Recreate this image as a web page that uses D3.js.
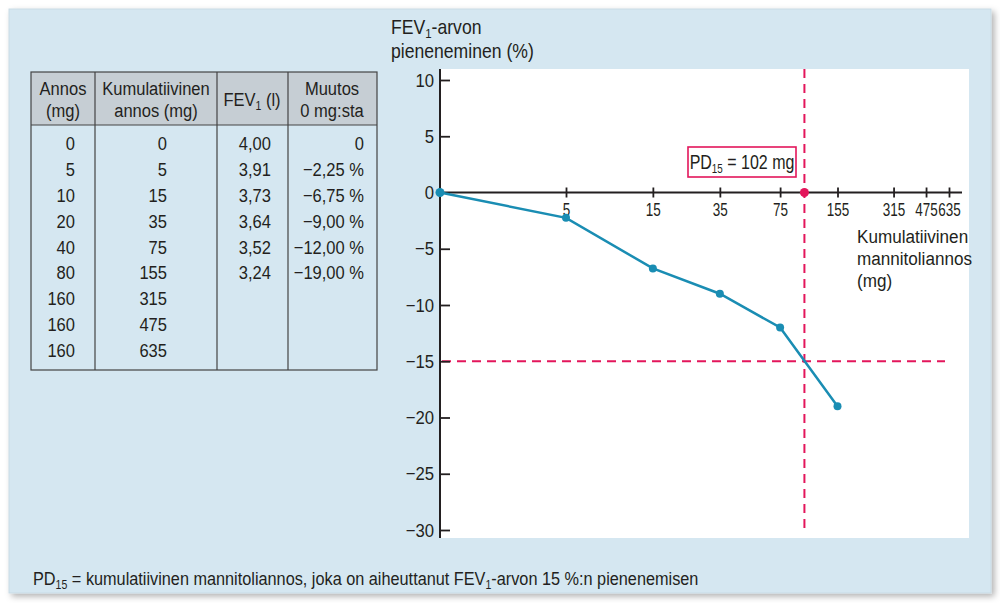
<!DOCTYPE html>
<html>
<head>
<meta charset="utf-8">
<script src="https://cdn.jsdelivr.net/npm/d3@7"></script>
<style>
  body { margin: 0; background: #fff; }
  svg text { font-family: "Liberation Sans", Arial, sans-serif; fill: #231f20; }
</style>
</head>
<body>
<div id="chart"></div>
<script>
// table data
var annos = [0, 5, 10, 20, 40, 80, 160, 160, 160];
var kumulatiivinen = [0, 5, 15, 35, 75, 155, 315, 475, 635];
var fev1 = [4.00, 3.91, 3.73, 3.64, 3.52, 3.24];
var muutos = [0, -2.25, -6.75, -9.00, -12.00, -19.00];

// chart ticks
var xTicks = [5, 15, 35, 75, 155, 315, 475, 635];
var yTicks = [10, 5, 0, -5, -10, -15, -20, -25, -30];
var pd15 = 102;
var threshold = -15;

var W = 1000, H = 603;
var blue = "#1a8db3", pink = "#e3165b", bg = "#d5e7f1";

// narrow the text horizontally (the original uses a condensed face)
function squeeze(sel, s) {
    sel.each(function() {
        var t = d3.select(this);
        var x = +t.attr("x") || 0, y = +t.attr("y") || 0;
        t.attr("x", null).attr("y", null)
         .attr("transform", "translate(" + x + "," + y + ") scale(" + s + ",1)");
    });
}

var svg = d3.select("#chart").append("svg")
    .attr("width", W)
    .attr("height", H);

// drop shadow for the panel
var defs = svg.append("defs");
var f = defs.append("filter").attr("id", "shadow")
    .attr("x", "-2%").attr("y", "-2%").attr("width", "104%").attr("height", "106%");
f.append("feDropShadow").attr("dx", 3).attr("dy", 3).attr("stdDeviation", 3)
    .attr("flood-color", "#000").attr("flood-opacity", 0.3);

svg.append("rect")
    .attr("x", 9).attr("y", 9).attr("width", 982).attr("height", 584)
    .attr("fill", bg).attr("stroke", "#c9dbe5").attr("filter", "url(#shadow)");

// ---------- table ----------
var tbl = svg.append("g");
var tx0 = 31, tx1 = 377, ty0 = 72, tHead = 125, ty1 = 370;
var colSep = [95, 217, 288];
var colRight = [75, 167, 271, 364];
var rowY = d3.scaleLinear().domain([0, 8]).range([143, 350]);

tbl.append("rect").attr("x", tx0).attr("y", ty0).attr("width", tx1 - tx0).attr("height", tHead - ty0)
    .attr("fill", "#c6ced4");
tbl.append("rect").attr("x", tx0).attr("y", ty0).attr("width", tx1 - tx0).attr("height", ty1 - ty0)
    .attr("fill", "none").attr("stroke", "#444").attr("stroke-width", 1.2);
tbl.append("line").attr("x1", tx0).attr("x2", tx1).attr("y1", tHead).attr("y2", tHead)
    .attr("stroke", "#444").attr("stroke-width", 1.2);
colSep.forEach(function(x) {
    tbl.append("line").attr("x1", x).attr("x2", x).attr("y1", ty0).attr("y2", ty1)
        .attr("stroke", "#444").attr("stroke-width", 1.2);
});

function headText(x, y, parts) {
    var t = tbl.append("text").attr("class", "sq").attr("x", x).attr("y", y).attr("text-anchor", "middle")
        .style("font-size", "19px");
    parts.forEach(function(p) {
        var s = t.append("tspan").text(p.t);
        if (p.sub) s.style("font-size", "12px").attr("dy", 4);
        if (p.up) s.attr("dy", -4);
    });
}
headText(63, 95, [{t: "Annos"}]);
headText(63, 117, [{t: "(mg)"}]);
headText(156, 95, [{t: "Kumulatiivinen"}]);
headText(156, 117, [{t: "annos (mg)"}]);
headText(252, 106, [{t: "FEV"}, {t: "1", sub: true}, {t: " (l)", up: true}]);
headText(332, 95, [{t: "Muutos"}]);
headText(332, 117, [{t: "0 mg:sta"}]);

var fmtComma = function(v) { return d3.format(".2f")(v).replace(".", ","); };
var fmtPct = function(v) { return v === 0 ? "0" : d3.format(".2f")(v).replace(".", ",") + " %"; };

function bodyCol(values, ci, fmt) {
    tbl.selectAll(null).data(values).enter().append("text")
        .attr("class", "sq")
        .attr("x", colRight[ci])
        .attr("y", function(d, i) { return rowY(i) + 7; })
        .attr("text-anchor", "end")
        .style("font-size", "19px")
        .text(fmt);
}
bodyCol(annos, 0, function(d) { return d; });
bodyCol(kumulatiivinen, 1, function(d) { return d; });
bodyCol(fev1, 2, fmtComma);
bodyCol(muutos, 3, fmtPct);
squeeze(tbl.selectAll("text.sq"), 0.87);

// ---------- chart ----------
var plot = {left: 440, right: 969, top: 69, bottom: 538};
svg.append("rect").attr("x", plot.left).attr("y", plot.top)
    .attr("width", plot.right - plot.left).attr("height", plot.bottom - plot.top)
    .attr("fill", "#fff");

var y = d3.scaleLinear().domain([-30, 10]).range([530, 80]);
var xLog = d3.scaleLog().domain([5, 635]).range([566, 949]);
function x(d) { return d === 0 ? plot.left : xLog(d); }

var g = svg.append("g");

// dashed reference lines
g.append("line")
    .attr("x1", plot.left + 2).attr("x2", 945)
    .attr("y1", y(threshold)).attr("y2", y(threshold))
    .attr("stroke", pink).attr("stroke-width", 2).attr("stroke-dasharray", "9,6");
g.append("line")
    .attr("x1", x(pd15)).attr("x2", x(pd15))
    .attr("y1", plot.top).attr("y2", plot.bottom - 5)
    .attr("stroke", pink).attr("stroke-width", 2).attr("stroke-dasharray", "9,6");

// y axis
var yAxis = d3.axisLeft(y).tickValues(yTicks).tickSizeInner(-10).tickSizeOuter(0).tickPadding(6);
var yg = g.append("g").attr("transform", "translate(" + plot.left + ",0)").call(yAxis);
yg.select(".domain").remove();
yg.selectAll(".tick line").attr("stroke", "#231f20").attr("stroke-width", 1.8);
yg.selectAll(".tick text").style("font-size", "19px").attr("fill", "#231f20")
    .attr("font-family", null);
squeeze(yg.selectAll(".tick text"), 0.88);
g.append("line").attr("x1", plot.left).attr("x2", plot.left)
    .attr("y1", plot.top).attr("y2", plot.bottom)
    .attr("stroke", "#231f20").attr("stroke-width", 2);

// x axis
var xAxis = d3.axisBottom(xLog).tickValues(xTicks).tickSizeInner(5).tickSizeOuter(0).tickPadding(5)
    .tickFormat(d3.format("d"));
var xg = g.append("g").attr("transform", "translate(0," + y(0) + ")").call(xAxis);
xg.select(".domain").remove();
xg.selectAll(".tick line").attr("y1", -5).attr("y2", 5).attr("stroke", "#231f20").attr("stroke-width", 1.8);
xg.selectAll(".tick text").style("font-size", "18.5px").attr("fill", "#231f20")
    .attr("font-family", null);
squeeze(xg.selectAll(".tick text"), 0.73);
g.append("line").attr("x1", plot.left).attr("x2", 962)
    .attr("y1", y(0)).attr("y2", y(0))
    .attr("stroke", "#231f20").attr("stroke-width", 2);

// data line
var pts = muutos.map(function(v, i) { return {k: kumulatiivinen[i], v: v}; });
g.append("path").datum(pts)
    .attr("d", d3.line().x(function(d) { return x(d.k); }).y(function(d) { return y(d.v); }))
    .attr("fill", "none").attr("stroke", blue).attr("stroke-width", 2.5);
g.selectAll(".pt").data(pts).enter().append("circle")
    .attr("class", "pt")
    .attr("cx", function(d) { return x(d.k); })
    .attr("cy", function(d) { return y(d.v); })
    .attr("r", function(d, i) { return i === 0 ? 4.5 : 4; })
    .attr("fill", blue);

// PD15 marker
g.append("circle").attr("cx", x(pd15)).attr("cy", y(0)).attr("r", 4.5).attr("fill", pink);

// PD15 box
g.append("rect").attr("x", 688).attr("y", 147).attr("width", 108).attr("height", 30)
    .attr("fill", "#fff").attr("stroke", pink).attr("stroke-width", 1.6);
var pt = g.append("text").attr("x", 742).attr("y", 169)
    .attr("text-anchor", "middle").style("font-size", "19.5px");
pt.append("tspan").text("PD");
pt.append("tspan").text("15").style("font-size", "12px").attr("dy", 4);
pt.append("tspan").text(" = " + pd15 + " mg").attr("dy", -4);
squeeze(pt, 0.82);

// axis titles
var yt = svg.append("text").attr("x", 391).attr("y", 34).style("font-size", "20px");
yt.append("tspan").text("FEV");
yt.append("tspan").text("1").style("font-size", "13px").attr("dy", 4);
yt.append("tspan").text("-arvon").attr("dy", -4);
var yt2 = svg.append("text").attr("x", 391).attr("y", 58).style("font-size", "20px").text("pieneneminen (%)");
squeeze(yt, 0.88);
squeeze(yt2, 0.88);

["Kumulatiivinen", "mannitoliannos", "(mg)"].forEach(function(s, i) {
    var t = svg.append("text").attr("x", 857).attr("y", 243 + i * 22).style("font-size", "19px").text(s);
    squeeze(t, 0.9);
});

// footnote
var fn = svg.append("text").attr("x", 33).attr("y", 585).style("font-size", "18.5px");
fn.append("tspan").text("PD");
fn.append("tspan").text("15").style("font-size", "12px").attr("dy", 4);
fn.append("tspan").text(" = kumulatiivinen mannitoliannos, joka on aiheuttanut FEV").attr("dy", -4);
fn.append("tspan").text("1").style("font-size", "12px").attr("dy", 4);
fn.append("tspan").text("-arvon 15 %:n pienenemisen").attr("dy", -4);
squeeze(fn, 0.88);
</script>
</body>
</html>
